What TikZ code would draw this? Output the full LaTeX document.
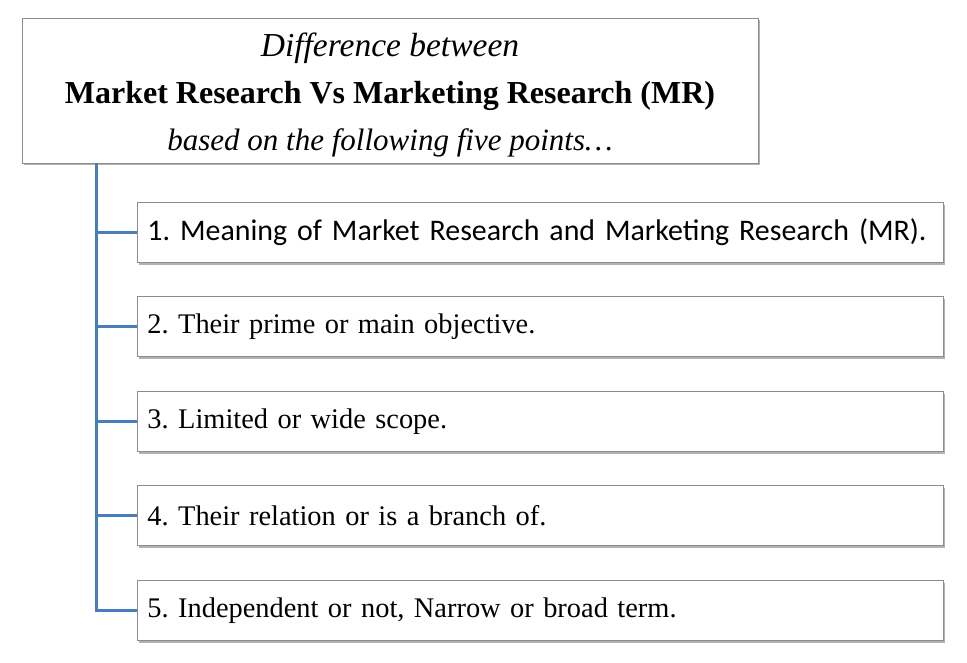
\documentclass[tikz,border=0pt]{standalone}
\usepackage{fontspec}
\setmainfont{Liberation Serif}
\newfontfamily\calibri{Carlito}
\usetikzlibrary{shadows}
\frenchspacing

\definecolor{linkblue}{HTML}{4A7EBB}
\definecolor{boxgray}{HTML}{8C8C8C}

\tikzset{
  shadowbox/.style = {draw=boxgray, line width=0.8pt, fill=white,
    drop shadow={shadow xshift=2pt, shadow yshift=-2.5pt, fill=black, opacity=0.3}},
  pointbox/.style = {shadowbox, anchor=north west, minimum height=60pt,
    text width=786pt, inner xsep=10pt, align=left,
    font=\fontsize{28.4}{34}\selectfont},
  link/.style = {linkblue, line width=3.5pt}
}

\begin{document}
\begin{tikzpicture}[x=1pt, y=-1pt]
                \useasboundingbox (0,0) rectangle (967,663);
                \node[shadowbox, minimum width=736pt, minimum height=145pt, align=center, inner sep=0pt,
                  font=\fontsize{31}{47}\selectfont\itshape]
                  (title) at (390,90.5)
                  {\rule{0pt}{33pt}{\fontsize{33.5}{47}\selectfont Difference between}\\
                   \fontsize{32}{47}\selectfont\upshape\bfseries Market Research Vs Marketing Research (MR)\\
                   based on the following five points\ldots};
                \node[pointbox, font=\calibri\fontsize{29.9}{34}\selectfont] (p1) at (137,202)
                  {1. Meaning of Market Research and Marketing Research (MR).};
                \node[pointbox] (p2) at (137,296) {2. Their prime or main objective.};
                \node[pointbox] (p3) at (137,391) {3. Limited or wide scope.};
                \node[pointbox] (p4) at (137,485) {4. Their relation or is a branch of.};
                \node[pointbox] (p5) at (137,580) {5. Independent or not, Narrow or broad term.};
                \coordinate (stem) at ([xshift=75pt]title.south west);
                \draw[link] (stem) |- (p5.west);
                \foreach \p in {p1,p2,p3,p4}
                  \draw[link] (\p.west) -- (\p.west -| stem);
            \end{tikzpicture}
\end{document}
